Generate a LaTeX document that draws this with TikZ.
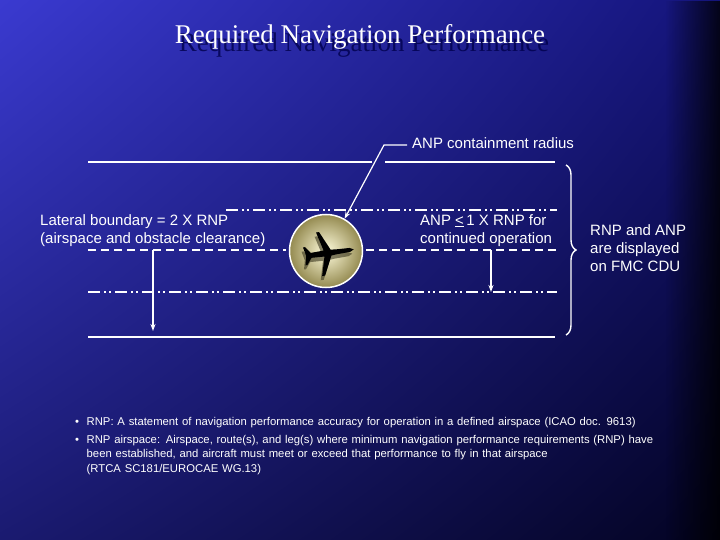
\documentclass[tikz,border=0pt]{standalone}
\usepackage{fontspec}
\setmainfont{Liberation Sans}
\newfontfamily\titlefont{Liberation Serif}
\usetikzlibrary{decorations.pathreplacing,arrows.meta,fadings,shadings}
\definecolor{bgA}{HTML}{3A3AD0}
\definecolor{bgB}{HTML}{14147A}
\definecolor{bgC}{HTML}{1A1A70}
\definecolor{bgD}{HTML}{030322}
\definecolor{discin}{HTML}{FFFCDC}
\definecolor{discout}{HTML}{948A50}
\tikzset{
  solidl/.style={white, line width=1.5pt},
  dashdot/.style={white, line width=1.5pt, dash pattern=on 12pt off 4pt on 2pt off 3pt on 2pt off 4pt},
  dashl/.style={white, line width=1.5pt, dash pattern=on 8pt off 5pt},
  lbl/.style={text=white, font=\fontsize{15}{18}\selectfont, align=left, inner sep=0pt},
  bul/.style={text=white, font=\fontsize{11.3}{14.5}\selectfont, align=left, inner sep=0pt, text width=640pt},
  arr/.style={white, line width=1.2pt, -{Stealth[length=7pt,width=5pt]}}
}
\begin{document}
\begin{tikzpicture}[x=1pt,y=-1pt]
\useasboundingbox (0,0) rectangle (720,540);
\shade[upper left=bgA, upper right=bgB, lower left=bgC, lower right=bgD] (0,0) rectangle (720,540);
\fill[black, path fading=west, opacity=0.8] (665,0) rectangle (720,540);
% title
\node[text=black!70!blue, opacity=0.8, font=\titlefont\fontsize{27}{30}\selectfont] at (364,45) {Required Navigation Performance};
\node (title) [text=white, font=\titlefont\fontsize{27}{30}\selectfont] at (360,37) {Required Navigation Performance};
% lines
\coordinate (t1a) at (88,162); \coordinate (t1b) at (372,162);
\coordinate (t2a) at (385,162); \coordinate (t2b) at (555,162);
\draw[solidl] (t1a) -- (t1b); \draw[solidl] (t2a) -- (t2b);
\coordinate (d1a) at (226,210); \coordinate (d1b) at (557,210);
\draw[dashdot] (d1a) -- (d1b);
\coordinate (m1a) at (88,250); \coordinate (m1b) at (286,250);
\coordinate (m2a) at (366,250); \coordinate (m2b) at (557,250);
\draw[dashl] (m1a) -- (m1b); \draw[dashl] (m2a) -- (m2b);
\coordinate (d2a) at (88,292); \coordinate (d2b) at (557,292);
\draw[dashdot] (d2a) -- (d2b);
\coordinate (b1a) at (88,337); \coordinate (b1b) at (555,337);
\draw[solidl] (b1a) -- (b1b);
% disc
\node (disc) [circle, minimum size=73pt, inner sep=0pt, draw=white, line width=1.5pt, inner color=discin, outer color=discout] at (326,251) {};
% airplane
\begin{scope}[shift={(328,253)}, rotate=8]
\fill[black!60!discout, opacity=0.6, shift={(-2,4)}] (26,0) -- (22,-2) -- (8,-2.5) -- (3,-3) -- (-6,-22) -- (-9,-22) -- (-4,-3) -- (-17,-2.5) -- (-22,-9) -- (-24,-9) -- (-22,0) -- (-24,9) -- (-22,9) -- (-17,2.5) -- (-4,3) -- (-9,22) -- (-6,22) -- (3,3) -- (8,2.5) -- (22,2) -- cycle;
\fill[black] (26,0) -- (22,-2) -- (8,-2.5) -- (3,-3) -- (-6,-22) -- (-9,-22) -- (-4,-3) -- (-17,-2.5) -- (-22,-9) -- (-24,-9) -- (-22,0) -- (-24,9) -- (-22,9) -- (-17,2.5) -- (-4,3) -- (-9,22) -- (-6,22) -- (3,3) -- (8,2.5) -- (22,2) -- cycle;
\end{scope}
% leader
\node (anp) [lbl, anchor=west] at (412,143) {ANP containment radius};
\coordinate (k1) at (407,145); \coordinate (k2) at (384,145);
\draw[white, line width=1.2pt, -{Stealth[length=7pt,width=5pt]}] (k1) -- (k2) -- (disc.60);
% labels
\node (lat) [lbl, anchor=north west] at (40,214) {Lateral boundary = 2 X RNP\\(airspace and obstacle clearance)};
\node (anpl) [lbl, anchor=north west] at (420,214) {ANP \underline{<}\,1 X RNP for\\continued operation};
\node (rnp) [lbl, anchor=north west] at (590,224) {RNP and ANP\\are displayed\\on FMC CDU};
% arrows
\coordinate (la) at (153,250); \coordinate (lb) at (153,331);
\draw[arr] (la) -- (lb);
\coordinate (ra) at (491,250); \coordinate (rb) at (491,292);
\draw[arr] (ra) -- (rb);
% brace
\coordinate (bra) at (566,165); \coordinate (brb) at (566,335);
\draw[white, line width=1.4pt, decorate, decoration={brace, amplitude=10pt}] (bra) -- (brb);
% bullets
\node (bu1) [bul, anchor=north west] at (75,417) {\textbullet\ \ RNP: A statement of navigation performance accuracy for operation in a defined airspace (ICAO doc. 9613)};
\node (bu2) [bul, anchor=north west] at (75,435) {\textbullet\ \ RNP airspace: Airspace, route(s), and leg(s) where minimum navigation performance requirements (RNP) have\\\hphantom{\textbullet\ \ }been established, and aircraft must meet or exceed that performance to fly in that airspace\\\hphantom{\textbullet\ \ }(RTCA SC181/EUROCAE WG.13)};
\end{tikzpicture}
\end{document}
